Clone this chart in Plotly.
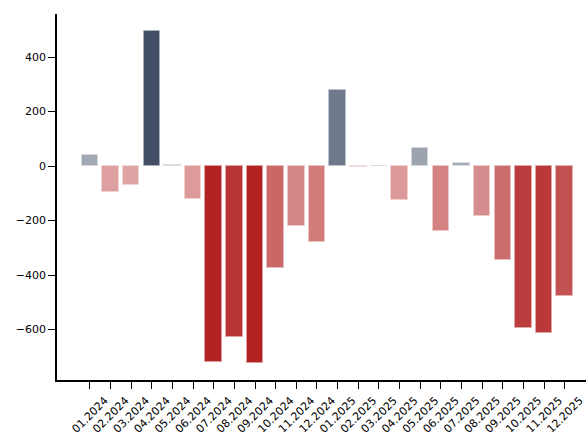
import plotly.graph_objects as go

months = ["01.2024", "02.2024", "03.2024", "04.2024", "05.2024", "06.2024",
          "07.2024", "08.2024", "09.2024", "10.2024", "11.2024", "12.2024",
          "01.2025", "02.2025", "03.2025", "04.2025", "05.2025", "06.2025",
          "07.2025", "08.2025", "09.2025", "10.2025", "11.2025", "12.2025"]
values = [42, -95, -68, 494, 3, -121,
          -720, -628, -724, -373, -220, -277,
          280, -3, 2, -124, 66, -239,
          10, -183, -345, -595, -611, -478]

y_ticks = [-600, -400, -200, 0, 200, 400]
y_tick_text = ["\u2212600", "\u2212400", "\u2212200", "0", "200", "400"]

POS_BASE = (15, 32, 62)
NEG_BASE = (178, 34, 34)
vmax = max(abs(v) for v in values)


def blend(base, a):
    return "rgb({},{},{})".format(*[round(255 - a * (255 - c)) for c in base])


colors = []
edges = []
for v in values:
    a = 0.35 + 0.65 * abs(v) / vmax
    base = POS_BASE if v >= 0 else NEG_BASE
    colors.append(blend(base, a))
    edges.append(blend(base, a * 0.45))

x = list(range(len(months)))

fig = go.Figure(go.Bar(
    x=x, y=values, width=0.8,
    marker=dict(color=colors, line=dict(color=edges, width=1)),
    hoverinfo="skip",
))

axis_font = dict(family="DejaVu Sans", size=11, color="black")

fig.update_layout(
    width=586, height=432,
    margin=dict(l=57, r=0, t=14, b=52),
    paper_bgcolor="white", plot_bgcolor="white",
    showlegend=False,
    font=axis_font,
    bargap=0,
)
fig.update_xaxes(
    range=[-1.59, 24.03], automargin=False,
    tickmode="array", tickvals=x, ticktext=months,
    tickangle=-45, ticks="outside", ticklen=7, tickwidth=1.3, tickcolor="black",
    ticklabelshift=15, ticklabelstandoff=1,
    showline=True, linecolor="black", linewidth=1.6,
    showgrid=False, zeroline=False, tickfont=dict(size=11),
)
fig.update_yaxes(
    range=[-785, 558], automargin=False,
    tickmode="array", tickvals=y_ticks, ticktext=y_tick_text,
    ticks="outside", ticklen=7, tickwidth=1.3, tickcolor="black",
    showline=True, linecolor="black", linewidth=1.6,
    showgrid=False, zeroline=False, tickfont=dict(size=11),
)

fig.write_html("out.html", config={"displayModeBar": False},
               post_script="document.body.style.margin='0';")
